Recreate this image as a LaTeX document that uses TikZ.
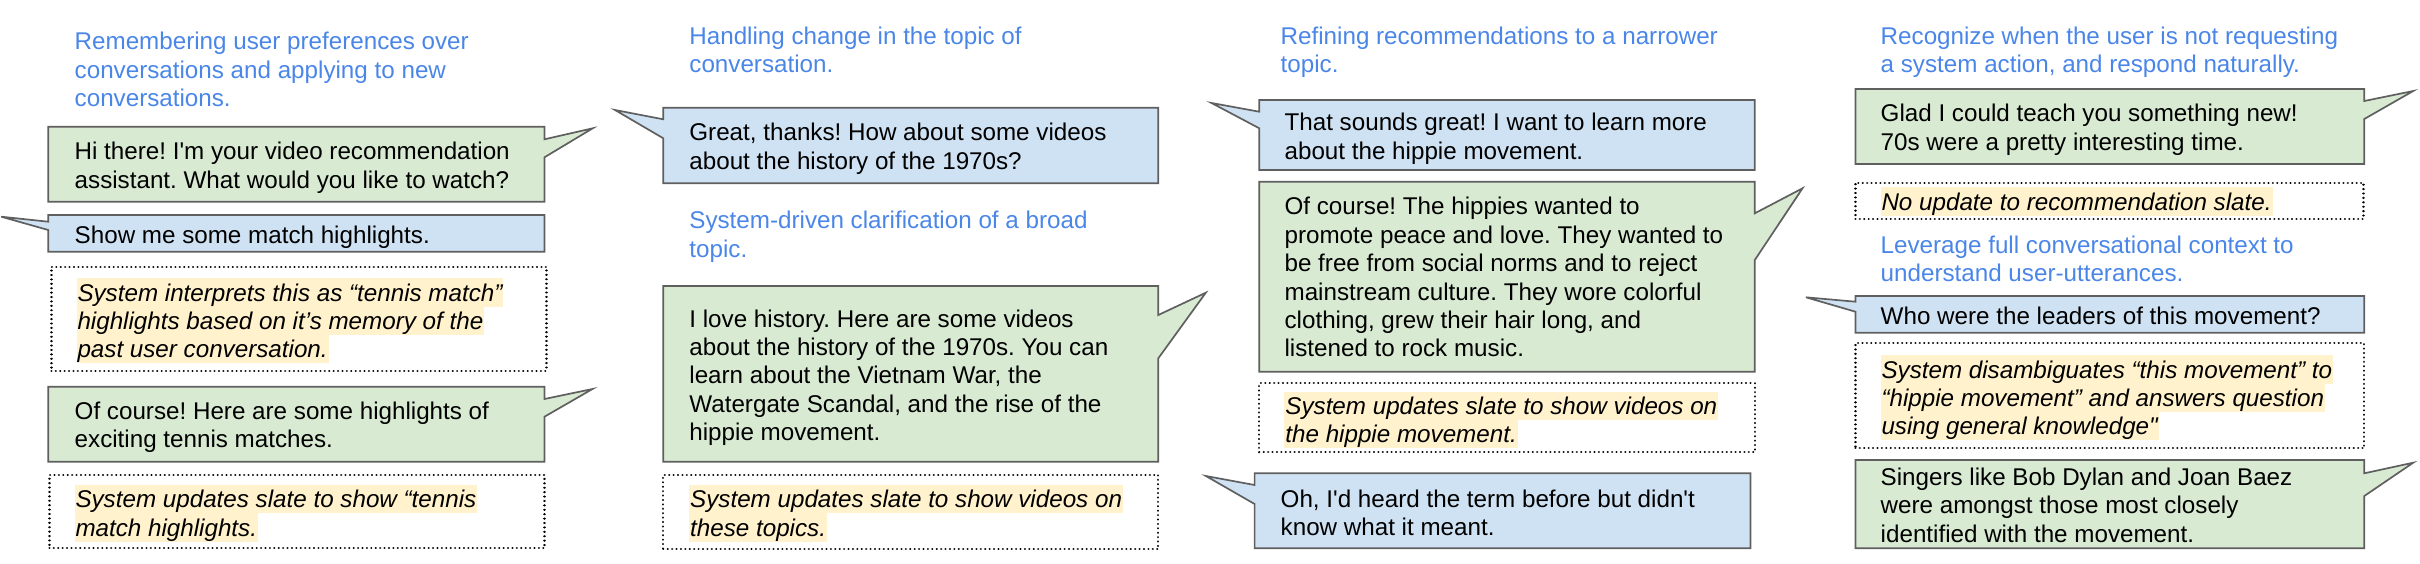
\documentclass[tikz,border=0pt]{standalone}
\usepackage{fontspec}
\usetikzlibrary{calc,fit}
\newfontfamily\ar{Liberation Sans}[Ligatures=TeXOff]
\definecolor{gfill}{HTML}{D9EAD3}
\definecolor{bfill}{HTML}{CFE2F3}
\definecolor{bord}{HTML}{5F5F5F}
\definecolor{hlc}{HTML}{FFF2CC}
\definecolor{ttl}{HTML}{4A86E8}
\tikzset{
  bub/.style={draw=bord, line width=1.7pt},
  frame/.style={inner sep=0pt, outer sep=0pt},
  dotbox/.style={draw=black, line width=2.3pt, line cap=round, dash pattern=on 0.01pt off 4.4pt, inner sep=0pt, outer sep=0pt},
  txt/.style={anchor=west, inner xsep=1pt, inner ysep=0pt, text height=22.9pt, text depth=5.5pt, font=\ar\frenchspacing\fontsize{24.2}{28.4}\selectfont},
  ttlt/.style={txt, text=ttl},
  note/.style={txt, fill=hlc, font=\ar\frenchspacing\itshape\fontsize{24.2}{28.4}\selectfont},
}
\newcommand\bubR[5]{\draw[bub,fill=#2] (#1.north west) -- (#1.north east) -- ($(#1.north east)+(0,#3)$) -- (#4) -- ($(#1.north east)+(0,#5)$) -- (#1.south east) -- (#1.south west) -- cycle;}
\newcommand\bubL[5]{\draw[bub,fill=#2] (#1.north east) -- (#1.north west) -- ($(#1.north west)+(0,#3)$) -- (#4) -- ($(#1.north west)+(0,#5)$) -- (#1.south west) -- (#1.south east) -- cycle;}
\newcommand\tlines[5]{\foreach \myline [count=\myi] in {#5} {\node[#2] (#1-\myi) at (#3,{#4+28.4*(\myi-1)}) {\myline};}}
\begin{document}
\frenchspacing
\begin{tikzpicture}[x=1pt,y=-1pt]
\useasboundingbox (0,0) rectangle (2420,564);
% ---------- frames ----------
\node[frame, fit={(48.2,126.7)(544.5,201.7)}] (b1) {};
\node[frame, fit={(48.2,215)(544.5,251.7)}] (b2) {};
\node[dotbox, fit={(51.4,266.7)(546.5,370.7)}] (d1) {};
\node[frame, fit={(48.2,386.7)(544.5,461.7)}] (b3) {};
\node[dotbox, fit={(49.4,475)(544.5,548.3)}] (d2) {};
\node[frame, fit={(663.3,107.7)(1158.3,183.3)}] (b4) {};
\node[frame, fit={(663.3,286)(1158.3,461.7)}] (b5) {};
\node[dotbox, fit={(663.3,475)(1158.3,549.3)}] (d3) {};
\node[frame, fit={(1259.3,100)(1754.8,170)}] (b6) {};
\node[frame, fit={(1259.3,181.7)(1754.8,371.7)}] (b7) {};
\node[dotbox, fit={(1259.3,383.3)(1754.8,452.3)}] (d4) {};
\node[frame, fit={(1254.6,473.3)(1750.4,548.3)}] (b8) {};
\node[frame, fit={(1855.4,89)(2364.3,164)}] (b9) {};
\node[dotbox, fit={(1855.4,182.7)(2363.5,219)}] (d5) {};
\node[frame, fit={(1855.4,296)(2364.3,332.7)}] (b10) {};
\node[dotbox, fit={(1855.4,343.3)(2364.3,448.3)}] (d6) {};
\node[frame, fit={(1855.4,460)(2364.3,548.3)}] (b11) {};
% ---------- tail tips ----------
\coordinate (p1) at (592.7,128.3);
\coordinate (p2) at (1.2,216.7);
\coordinate (p3) at (592.5,389);
\coordinate (p4) at (615,110);
\coordinate (p5) at (1205.8,292.7);
\coordinate (p6) at (1211.5,103);
\coordinate (p7) at (1802.5,188.3);
\coordinate (p8) at (1205.9,476);
\coordinate (p9) at (2413.2,91);
\coordinate (p10) at (1805.9,297.3);
\coordinate (p11) at (2413.2,462.7);
% ---------- bubbles ----------
\bubR{b1}{gfill}{12.6}{p1}{30.6}
\bubL{b2}{bfill}{6.7}{p2}{15}
\bubR{b3}{gfill}{12.3}{p3}{30}
\bubL{b4}{bfill}{11.6}{p4}{30.6}
\bubR{b5}{gfill}{29}{p5}{72.3}
\bubL{b6}{bfill}{11.7}{p6}{28.3}
\bubR{b7}{gfill}{31.6}{p7}{78.3}
\bubL{b8}{bfill}{11.7}{p8}{30.7}
\bubR{b9}{gfill}{12}{p9}{30}
\bubL{b10}{bfill}{5.7}{p10}{15.7}
\bubR{b11}{gfill}{13.3}{p11}{36}
% ---------- column 1 ----------
\tlines{t1}{ttlt}{73.5}{41.2}{{Remembering user preferences over},{conversations and applying to new},{conversations.}}
\tlines{b1t}{txt}{73.5}{151}{{Hi there! I'm your video recommendation},{assistant. What would you like to watch?}}
\tlines{b2t}{txt}{73.5}{235}{{Show me some match highlights.}}
\tlines{d1t}{note}{76.3}{292.3}{{System interprets this as “tennis match”},{highlights based on it’s memory of the},{past user conversation.}}
\tlines{b3t}{txt}{73.5}{410.7}{{Of course! Here are some highlights of},{exciting tennis matches.}}
\tlines{d2t}{note}{74.3}{499}{{System updates slate to show “tennis},{match highlights.}}
% ---------- column 2 ----------
\tlines{t2}{ttlt}{688.2}{35.8}{{Handling change in the topic of},{conversation.}}
\tlines{b4t}{txt}{688.2}{132.3}{{Great, thanks! How about some videos},{about the history of the 1970s?}}
\tlines{t3}{ttlt}{688.2}{220}{{System-driven clarification of a broad},{topic.}}
\tlines{b5t}{txt}{688.2}{318.3}{{I love history. Here are some videos},{about the history of the 1970s. You can},{learn about the Vietnam War, the},{Watergate Scandal, and the rise of the},{hippie movement.}}
\tlines{d3t}{note}{689}{499}{{System updates slate to show videos on},{these topics.}}
% ---------- column 3 ----------
\tlines{t4}{ttlt}{1279.5}{35.8}{{Refining recommendations to a narrower},{topic.}}
\tlines{b6t}{txt}{1283.4}{122.2}{{That sounds great! I want to learn more},{about the hippie movement.}}
\tlines{b7t}{txt}{1283.4}{206.2}{{Of course! The hippies wanted to},{promote peace and love. They wanted to},{be free from social norms and to reject},{mainstream culture. They wore colorful},{clothing, grew their hair long, and},{listened to rock music.}}
\tlines{d4t}{note}{1284.2}{405.7}{{System updates slate to show videos on},{the hippie movement.}}
\tlines{b8t}{txt}{1279.5}{498.3}{{Oh, I'd heard the term before but didn't},{know what it meant.}}
% ---------- column 4 ----------
\tlines{t5}{ttlt}{1879.5}{35.8}{{Recognize when the user is not requesting},{a system action, and respond naturally.}}
\tlines{b9t}{txt}{1879.5}{113.3}{{Glad I could teach you something new!},{70s were a pretty interesting time.}}
\tlines{d5t}{note}{1880.3}{201.7}{{No update to recommendation slate.}}
\tlines{t6}{ttlt}{1879.5}{244.3}{{Leverage full conversational context to},{understand user-utterances.}}
\tlines{b10t}{txt}{1879.5}{316}{{Who were the leaders of this movement?}}
\tlines{d6t}{note}{1880.3}{369.3}{{System disambiguates “this movement” to},{“hippie movement” and answers question},{using general knowledge"}}
\tlines{b11t}{txt}{1879.5}{476.7}{{Singers like Bob Dylan and Joan Baez},{were amongst those most closely},{identified with the movement.}}
\end{tikzpicture}
\end{document}
